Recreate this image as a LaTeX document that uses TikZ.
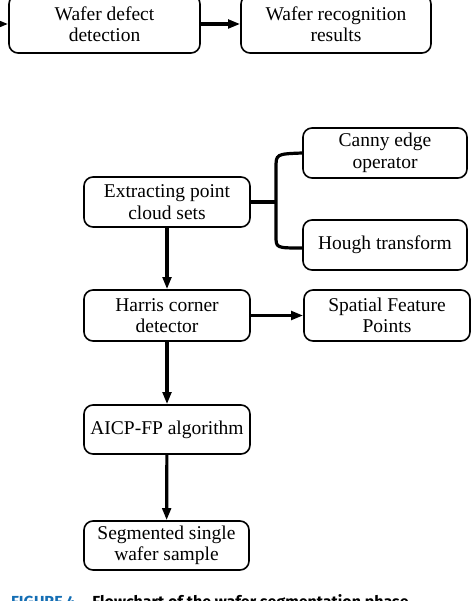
\documentclass[tikz,border=0pt]{standalone}
\usepackage{fontspec}
\setmainfont{Liberation Serif}
\newfontfamily\capfont{Fira Sans}
\usetikzlibrary{arrows.meta}
\definecolor{capblue}{RGB}{20,110,180}
\tikzset{
  box/.style={draw=black, line width=1.6pt, rounded corners=9pt, align=center,
    inner sep=0pt, font=\fontsize{19.5}{21.5}\selectfont},
  flow/.style={line width=3.2pt, -{Triangle[length=12pt,width=8.5pt]}},
  brk/.style={line width=3.2pt}
}
\begin{document}
\begin{tikzpicture}[x=1pt,y=-1pt]
\useasboundingbox (0,0) rectangle (474,601);
\clip (0,0) rectangle (474,601);
\node[box, minimum width=191pt, minimum height=58pt] (defect) at (104.5,24) {Wafer defect\\detection};
\node[box, minimum width=190pt, minimum height=58pt] (results) at (336,24) {Wafer recognition\\results};
\coordinate (in) at (-20,24);
\node[box, minimum width=164pt, minimum height=50pt] (canny) at (385,153) {Canny edge\\operator};
\node[box, minimum width=164pt, minimum height=50pt] (hough) at (385,245) {Hough transform};
\node[box, minimum width=166pt, minimum height=50pt] (extract) at (167,202) {Extracting point\\cloud sets};
\node[box, minimum width=166pt, minimum height=51pt] (harris) at (167,315.5) {Harris corner\\detector};
\node[box, minimum width=166pt, minimum height=51pt] (spatial) at (387,315.5) {Spatial Feature\\Points};
\node[box, minimum width=166pt, minimum height=49pt] (aicp) at (167,429.5) {AICP-FP algorithm};
\node[box, minimum width=165pt, minimum height=49pt] (seg) at (166.5,545.5) {Segmented single\\wafer sample};
\coordinate (j) at (276,202);
\coordinate (jt) at (276,168);
\coordinate (jb) at (276,236);
% connectors
\draw[flow] (in) -- (defect);
\draw[flow] (defect) -- (results);
\draw[flow] (extract) -- (harris);
\draw[flow] (harris) -- (spatial);
\draw[flow] (harris) -- (aicp);
\draw[flow] (aicp) -- (seg);
\draw[brk] (extract.east) -- (j);
\draw[brk] (canny.west) .. controls (276,154) .. (jt) -- (jb) .. controls (276,248) .. ([yshift=-3pt]hough.west);
% caption (cut off at the bottom edge, as in the reference)
\node[anchor=north west, inner sep=0pt, font=\capfont\bfseries\fontsize{16}{18}\selectfont] (cap) at (11,594.5)
  {\textcolor{capblue}{FIGURE 4.}\hspace{13pt}Flowchart of the wafer segmentation phase};
\end{tikzpicture}
\end{document}
